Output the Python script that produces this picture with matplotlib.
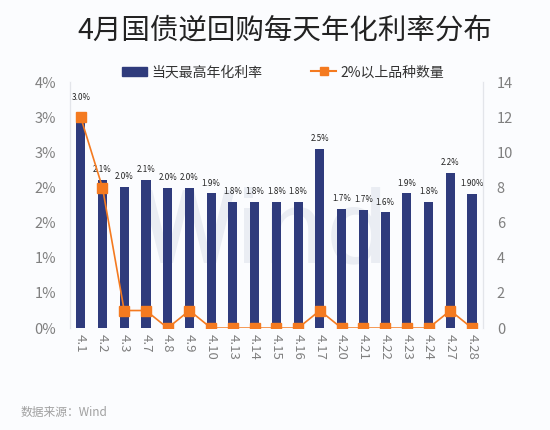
import matplotlib
matplotlib.use("Agg")
import matplotlib.pyplot as plt
from matplotlib.lines import Line2D
from matplotlib.patches import Patch
from matplotlib.ticker import FuncFormatter, MultipleLocator

plt.rcParams["font.family"] = ["Noto Sans CJK SC", "DejaVu Sans"]

dates = ["4.1", "4.2", "4.3", "4.7", "4.8", "4.9", "4.10", "4.13", "4.14", "4.15",
         "4.16", "4.17", "4.20", "4.21", "4.22", "4.23", "4.24", "4.27", "4.28"]
max_rate = [3.0, 2.11, 2.01, 2.11, 2.0, 2.0, 1.92, 1.8, 1.8, 1.8,
            1.8, 2.55, 1.7, 1.68, 1.645, 1.92, 1.8, 2.21, 1.91]
rate_labels = ["3.0%", "2.1%", "2.0%", "2.1%", "2.0%", "2.0%", "1.9%", "1.8%", "1.8%", "1.8%",
               "1.8%", "2.5%", "1.7%", "1.7%", "1.6%", "1.9%", "1.8%", "2.2%", "1.90%"]
count_above_2 = [12, 8, 1, 1, 0, 1, 0, 0, 0, 0, 0, 1, 0, 0, 0, 0, 0, 1, 0]

navy = "#2f3b7c"
orange = "#f47a20"
grey = "#7f7f7f"
bg = "#fbfcfe"

fig = plt.figure(figsize=(5.5, 4.3), dpi=100, facecolor=bg)
ax = fig.add_axes([0.127, 0.237, 0.751, 0.572])
ax.set_facecolor(bg)

x = list(range(len(dates)))

# watermark
ax.text(0.47, 0.38, "Wind", transform=ax.transAxes, fontsize=72, color="#eaedf3",
        ha="center", va="center", zorder=0, family=["DejaVu Sans"])

ax.bar(x, max_rate, width=0.42, color=navy, zorder=2)
for xi, v, lab in zip(x, max_rate, rate_labels):
    off = 11 if xi == 0 else 4
    ax.annotate(lab, (xi, v), xytext=(0, off), textcoords="offset points",
                ha="center", va="bottom", fontsize=5.8, color="#222222", zorder=5)

ax.set_ylim(0, 3.5)
ax.set_xlim(-0.5, len(dates) - 0.5)
ax.yaxis.set_major_locator(MultipleLocator(0.5))
ax.yaxis.set_major_formatter(FuncFormatter(lambda v, p: "%d%%" % int(v + 0.5)))
ax.set_xticks(x)
ax.set_xticklabels(dates, rotation=-90, color=grey, fontsize=9.5)
ax.tick_params(axis="y", colors=grey, labelsize=10.5, length=0, pad=10)
ax.tick_params(axis="x", length=0, pad=4)

ax2 = ax.twinx()
ax2.plot(x, count_above_2, color=orange, lw=1.2, marker="s", markersize=7.5, zorder=4)
ax2.set_ylim(0, 14)
ax2.yaxis.set_major_locator(MultipleLocator(2))
ax2.tick_params(axis="y", colors=grey, labelsize=10.5, length=0, pad=10)

for a in (ax, ax2):
    a.spines["top"].set_visible(False)
    a.spines["bottom"].set_visible(False)
    a.spines["left"].set_color("#e3e5ea")
    a.spines["right"].set_color("#e3e5ea")

fig.text(0.518, 0.93, "4月国债逆回购每天年化利率分布", ha="center", va="center",
         fontsize=20.5, color="#222222")

handles = [Patch(color=navy, label="当天最高年化利率"),
           Line2D([0], [0], color=orange, lw=1.5, marker="s", markersize=6, label="2%以上品种数量")]
fig.legend(handles=handles, loc="center", bbox_to_anchor=(0.515, 0.832), ncol=2,
           frameon=False, fontsize=10, columnspacing=3.5, handlelength=1.8,
           handletextpad=0.3, labelcolor="#333333")

fig.text(0.037, 0.04, "数据来源：Wind", ha="left", va="center", fontsize=8.5, color="#a0a0a0")

fig.savefig("out.png", dpi=100, facecolor=bg)
